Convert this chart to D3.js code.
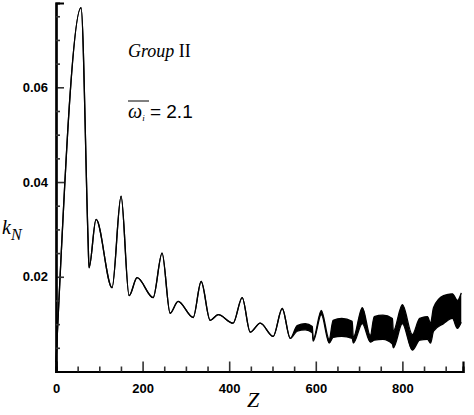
<!DOCTYPE html>
<html><head><meta charset="utf-8">
<script src="https://cdn.jsdelivr.net/npm/d3@7"></script>
<style>body{margin:0;background:#fff}</style>
</head><body>
<script>
// Z positions and upper/lower envelope of k_N (equal where the curve is a single line)
const zVals = [0, 57.8, 74, 76.3, 92.5, 129.5, 150.3, 168.8, 187.3, 224.3, 245, 263.6, 282, 316.8, 335.3, 356, 374.6, 409, 430, 448.6, 471.7, 501.7, 522.5, 541,
  557, 575.7, 592, 594, 612.7, 631, 640, 660, 684, 686.7, 707.5, 726, 735, 755, 777, 779, 800, 823, 840, 858, 865, 872, 895, 915.6, 927, 936];
const kUpper = [0.002, 0.0768, 0.028, 0.0219, 0.0321, 0.0177, 0.037, 0.016, 0.0198, 0.0156, 0.025, 0.0123, 0.0148, 0.0114, 0.019, 0.0108, 0.012, 0.0102, 0.0156, 0.0083, 0.0102, 0.0074, 0.0133, 0.007,
  0.0097, 0.0101, 0.0095, 0.0068, 0.0129, 0.0068, 0.0108, 0.0112, 0.0106, 0.0072, 0.0135, 0.0076, 0.0116, 0.0119, 0.0112, 0.0085, 0.0141, 0.0078, 0.0112, 0.0116, 0.0102, 0.0135, 0.016, 0.0164, 0.015, 0.0166];
const kLower = [0.002, 0.0768, 0.028, 0.0219, 0.0321, 0.0177, 0.037, 0.016, 0.0198, 0.0156, 0.025, 0.0123, 0.0148, 0.0114, 0.019, 0.0108, 0.012, 0.0102, 0.0156, 0.0083, 0.0102, 0.0074, 0.0133, 0.007,
  0.0085, 0.0088, 0.0082, 0.0064, 0.012, 0.006, 0.0072, 0.0074, 0.007, 0.006, 0.0101, 0.0062, 0.0066, 0.0068, 0.0058, 0.005, 0.0101, 0.0045, 0.0066, 0.0068, 0.006, 0.0085, 0.0101, 0.0112, 0.0091, 0.0104];
const xTicks = [0, 200, 400, 600, 800];
const yTicks = [0.02, 0.04, 0.06];

const W = 474, H = 415;
const svg = d3.select("body").append("svg").attr("width", W).attr("height", H);

const x = d3.scaleLinear().domain([0, 940]).range([56, 463]);
const y = d3.scaleLinear().domain([0, 0.0778]).range([371.5, 3]);

const pts = zVals.map((z, i) => ({ z, hi: kUpper[i], lo: kLower[i] }));
const curve = d3.curveMonotoneX;

// band + line
svg.append("path").datum(pts)
  .attr("d", d3.area().curve(curve).x(d => x(d.z)).y0(d => y(d.lo)).y1(d => y(d.hi)))
  .attr("fill", "#000");
["hi", "lo"].forEach(k => {
  svg.append("path").datum(pts)
    .attr("d", d3.line().curve(curve).x(d => x(d.z)).y(d => y(d[k])))
    .attr("fill", "none").attr("stroke", "#000").attr("stroke-width", 1.3);
});

// axes (ticks inward)
const xAxis = svg.append("g").attr("transform", `translate(0,${y(0)})`)
  .call(d3.axisBottom(x).tickValues(xTicks).tickSize(-10).tickPadding(14).tickFormat(d3.format("d")));
svg.append("g").attr("transform", `translate(0,${y(0)})`)
  .call(d3.axisBottom(x).tickValues(d3.range(50, 940, 50).filter(v => v % 200)).tickSize(-5).tickFormat(""));
const yAxis = svg.append("g").attr("transform", `translate(${x(0)},0)`)
  .call(d3.axisLeft(y).tickValues(yTicks).tickSize(-8).tickPadding(14).tickFormat(d3.format(".2f")));
svg.append("g").attr("transform", `translate(${x(0)},0)`)
  .call(d3.axisLeft(y).tickValues(d3.range(0.005, 0.077, 0.005).filter(v => Math.abs(v * 50 - Math.round(v * 50)) > 1e-6)).tickSize(-4).tickFormat(""));

svg.selectAll(".domain").attr("stroke-width", 2.2).attr("stroke", "#000");
svg.selectAll(".tick line").attr("stroke-width", 1.6).attr("stroke", "#333");
svg.selectAll(".tick text").attr("font-family", "Liberation Sans, Arial, sans-serif")
  .attr("font-size", 13).attr("font-weight", "bold").attr("fill", "#000");
yAxis.selectAll(".tick text").attr("x", -8);
xAxis.selectAll(".tick text").attr("y", 12);

const serif = "Liberation Serif, Times New Roman, serif";
svg.append("text").attr("x", 247).attr("y", 407).attr("font-family", serif).attr("font-style", "italic").attr("font-size", 22).text("Z");
const kl = svg.append("text").attr("x", 2).attr("y", 234).attr("font-family", serif).attr("font-style", "italic").attr("font-size", 20);
kl.append("tspan").text("k");
kl.append("tspan").attr("dy", 6).attr("font-size", 16).text("N");

const g = svg.append("text").attr("x", 128).attr("y", 57).attr("font-family", serif).attr("font-size", 18);
g.append("tspan").attr("font-style", "italic").text("Group ");
g.append("tspan").text("II");

const om = svg.append("text").attr("x", 128).attr("y", 118).attr("font-family", serif).attr("font-size", 20);
om.append("tspan").attr("font-style", "italic").text("ω");
om.append("tspan").attr("dy", 3).attr("font-size", 9).attr("font-style", "italic").text("i");
om.append("tspan").attr("dy", -3).attr("font-family", "Liberation Sans, Arial, sans-serif").attr("font-size", 19).text(" = 2.1");
svg.append("line").attr("x1", 128).attr("x2", 149).attr("y1", 101).attr("y2", 101).attr("stroke", "#000").attr("stroke-width", 1);
</script>
</body></html>
